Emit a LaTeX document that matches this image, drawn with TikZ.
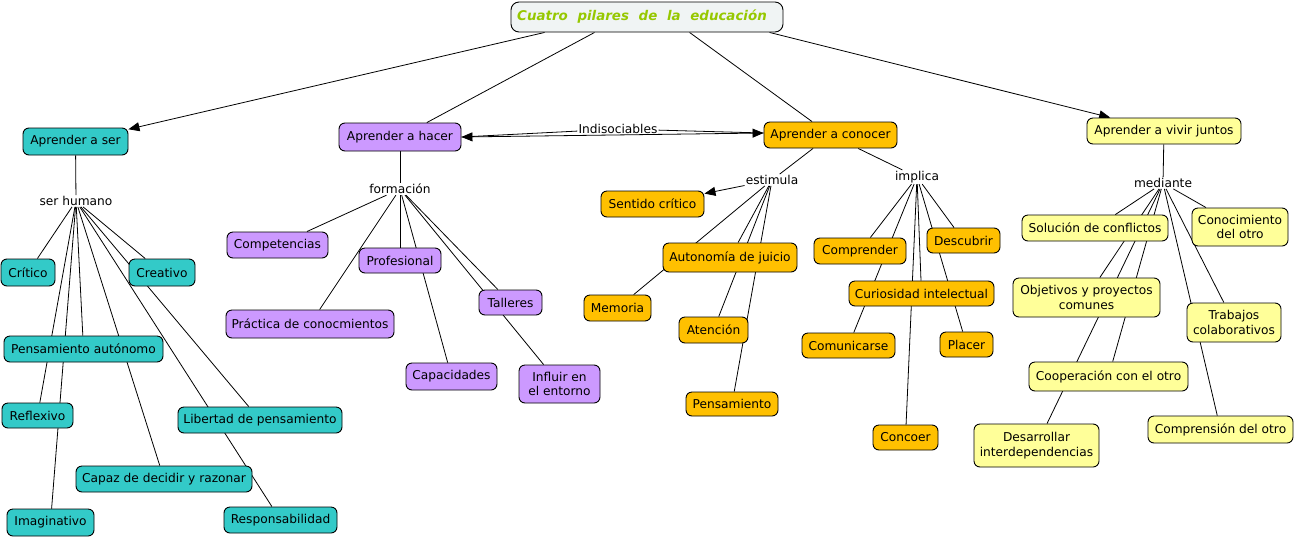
\documentclass[tikz,border=0pt]{standalone}
\usepackage{fontspec}
\setmainfont{DejaVu Sans}
\usetikzlibrary{arrows.meta,backgrounds,calc}
\pgfdeclarelayer{bottom}
\pgfsetlayers{bottom,background,main}
\definecolor{cteal}{RGB}{51,202,200}
\definecolor{cpurple}{RGB}{204,153,255}
\definecolor{corange}{RGB}{255,192,0}
\definecolor{cyellow}{RGB}{255,255,153}
\definecolor{ctitlefill}{RGB}{240,244,244}
\definecolor{ctitle}{RGB}{150,200,0}
\tikzset{
  cbox/.style={draw=black, line width=0.9pt, rounded corners=6pt, inner sep=0pt, align=center, font=\fontsize{12.2}{14.5}\selectfont},
  tealbox/.style={cbox, fill=cteal},
  purpbox/.style={cbox, fill=cpurple},
  orabox/.style={cbox, fill=corange},
  yelbox/.style={cbox, fill=cyellow},
  titlebox/.style={draw=black, line width=0.9pt, rounded corners=8pt, inner sep=0pt, fill=ctitlefill, text=ctitle, font=\fontsize{13.4}{16}\selectfont\bfseries\itshape},
  lbl/.style={inner sep=1pt, font=\fontsize{12.2}{14.5}\selectfont},
  conn/.style={line width=0.8pt},
  arr/.style={conn, -{Triangle[length=11pt,width=9pt]}},
  darr/.style={conn, {Triangle[length=11pt,width=9pt]}-{Triangle[length=11pt,width=9pt]}},
}
\begin{document}
\begin{tikzpicture}[x=1pt,y=-1pt]
\begin{pgfonlayer}{bottom}
\fill[white] (0,0) rectangle (1296,539);
\end{pgfonlayer}
\useasboundingbox (0,0) rectangle (1296,539);

% title
\node[titlebox, minimum width=272pt, minimum height=30pt] (title) at (647,17) {\hspace{-10pt}Cuatro\hspace{5pt} pilares\hspace{5pt} de\hspace{5pt} la\hspace{5pt} educación};

% teal group
\node[tealbox, minimum width=105pt, minimum height=27pt] (ser) at (75.5,141.5) {Aprender a ser};
\node[lbl] (serh) at (76,201) {ser humano};
\node[tealbox, minimum width=54pt, minimum height=27pt] (critico) at (28,272.5) {Crítico};
\node[tealbox, minimum width=66pt, minimum height=27pt] (creativo) at (162,272.5) {Creativo};
\node[tealbox, minimum width=159pt, minimum height=26pt] (pensaut) at (83.5,349) {Pensamiento autónomo};
\node[tealbox, minimum width=71pt, minimum height=25pt] (reflexivo) at (37.5,415.5) {Reflexivo};
\node[tealbox, minimum width=164pt, minimum height=26pt] (libertad) at (260,420) {Libertad de pensamiento};
\node[tealbox, minimum width=176pt, minimum height=26pt] (capaz) at (164,479) {Capaz de decidir y razonar};
\node[tealbox, minimum width=87pt, minimum height=27pt] (imaginativo) at (50.5,522.5) {Imaginativo};
\node[tealbox, minimum width=113pt, minimum height=26pt] (respons) at (280.5,520) {Responsabilidad};

% purple group
\node[purpbox, minimum width=122pt, minimum height=28pt] (hacer) at (400,137) {Aprender a hacer};
\node[lbl] (formacion) at (400,189) {formación};
\node[purpbox, minimum width=101pt, minimum height=26pt] (compet) at (277.5,245) {Competencias};
\node[purpbox, minimum width=82pt, minimum height=25pt] (profes) at (400,260.5) {Profesional};
\node[purpbox, minimum width=168pt, minimum height=28pt] (practica) at (310,324) {Práctica de conocmientos};
\node[purpbox, minimum width=63pt, minimum height=25pt] (talleres) at (510.5,302.5) {Talleres};
\node[purpbox, minimum width=91pt, minimum height=27pt] (capac) at (451.5,376.5) {Capacidades};
\node[purpbox, minimum width=81pt, minimum height=38pt] (influir) at (559.5,384) {Influir en\\el entorno};

% orange group
\node[lbl] (ind) at (618,129) {Indisociables};
\node[orabox, minimum width=133pt, minimum height=26pt] (conocer) at (830.5,135) {Aprender a conocer};
\node[lbl] (estimula) at (772,180) {estimula};
\node[lbl] (implica) at (917,177) {implica};
\node[orabox, minimum width=103pt, minimum height=26pt] (sentido) at (652.5,204) {Sentido crítico};
\node[orabox, minimum width=134pt, minimum height=29pt] (autonomia) at (730,257.5) {Autonomía de juicio};
\node[orabox, minimum width=67pt, minimum height=26pt] (memoria) at (617.5,308) {Memoria};
\node[orabox, minimum width=69pt, minimum height=26pt] (atencion) at (713.5,330) {Atención};
\node[orabox, minimum width=92pt, minimum height=24pt] (pensamiento) at (732,404) {Pensamiento};
\node[orabox, minimum width=92pt, minimum height=26pt] (comprender) at (860,251) {Comprender};
\node[orabox, minimum width=73pt, minimum height=25pt] (descubrir) at (963.5,240.5) {Descubrir};
\node[orabox, minimum width=145pt, minimum height=25pt] (curiosidad) at (921.5,293.5) {Curiosidad intelectual};
\node[orabox, minimum width=93pt, minimum height=25pt] (comunicarse) at (848.5,345.5) {Comunicarse};
\node[orabox, minimum width=53pt, minimum height=25pt] (placer) at (966.5,344.5) {Placer};
\node[orabox, minimum width=65pt, minimum height=25pt] (concoer) at (905.5,437.5) {Concoer};

% yellow group
\node[yelbox, minimum width=154pt, minimum height=26pt] (vivir) at (1164,131) {Aprender a vivir juntos};
\node[lbl] (mediante) at (1163,183) {mediante};
\node[yelbox, minimum width=146pt, minimum height=26pt] (solucion) at (1095,228) {Solución de conflictos};
\node[yelbox, minimum width=96pt, minimum height=38pt] (conocim) at (1240,227) {Conocimiento\\del otro};
\node[yelbox, minimum width=147pt, minimum height=39pt] (objetivos) at (1086.5,297.5) {Objetivos y proyectos\\comunes};
\node[yelbox, minimum width=94pt, minimum height=39pt] (trabajos) at (1234,322.5) {Trabajos\\colaborativos};
\node[yelbox, minimum width=159pt, minimum height=29pt] (cooperacion) at (1108.5,376.5) {Cooperación con el otro};
\node[yelbox, minimum width=145pt, minimum height=27pt] (comprension) at (1220.5,429.5) {Comprensión del otro};
\node[yelbox, minimum width=125pt, minimum height=43pt] (desarrollar) at (1036.5,445.5) {Desarrollar\\interdependencias};

% connectors
\begin{pgfonlayer}{background}
\coordinate (t1) at ($(title.south west)+(34,0)$);
\coordinate (t2) at ($(title.south west)+(84,0)$);
\coordinate (t3) at ($(title.south west)+(179,0)$);
\coordinate (t4) at ($(title.south west)+(259,0)$);
\draw[arr] (t1) -- (ser);
\draw[conn] (t2) -- (hacer);
\draw[conn] (t3) -- (conocer);
\draw[arr] (t4) -- (vivir);

\draw[conn] (ser) -- (serh);
\foreach \n in {critico,creativo,pensaut,reflexivo,libertad,capaz,imaginativo,respons}
  \draw[conn] (serh) -- (\n);

\draw[conn] (hacer) -- (formacion);
\foreach \n in {compet,profes,practica,talleres,capac,influir}
  \draw[conn] (formacion) -- (\n);

\coordinate (hx) at (hacer.east);
\coordinate (cx) at ($(conocer.west)+(0,-2)$);
\draw[darr] (hx) -- (cx);
\draw[conn] (ind) -- (hx);
\draw[conn] (ind) -- (cx);

\draw[conn] (conocer) -- (estimula);
\draw[conn] (conocer) -- (implica);
\draw[arr] (estimula) -- (sentido);
\foreach \n in {autonomia,memoria,atencion,pensamiento}
  \draw[conn] (estimula) -- (\n);
\foreach \n in {comprender,descubrir,curiosidad,comunicarse,placer,concoer}
  \draw[conn] (implica) -- (\n);

\draw[conn] (vivir) -- (mediante);
\foreach \n in {solucion,conocim,objetivos,trabajos,cooperacion,comprension,desarrollar}
  \draw[conn] (mediante) -- (\n);
\end{pgfonlayer}
\end{tikzpicture}
\end{document}
